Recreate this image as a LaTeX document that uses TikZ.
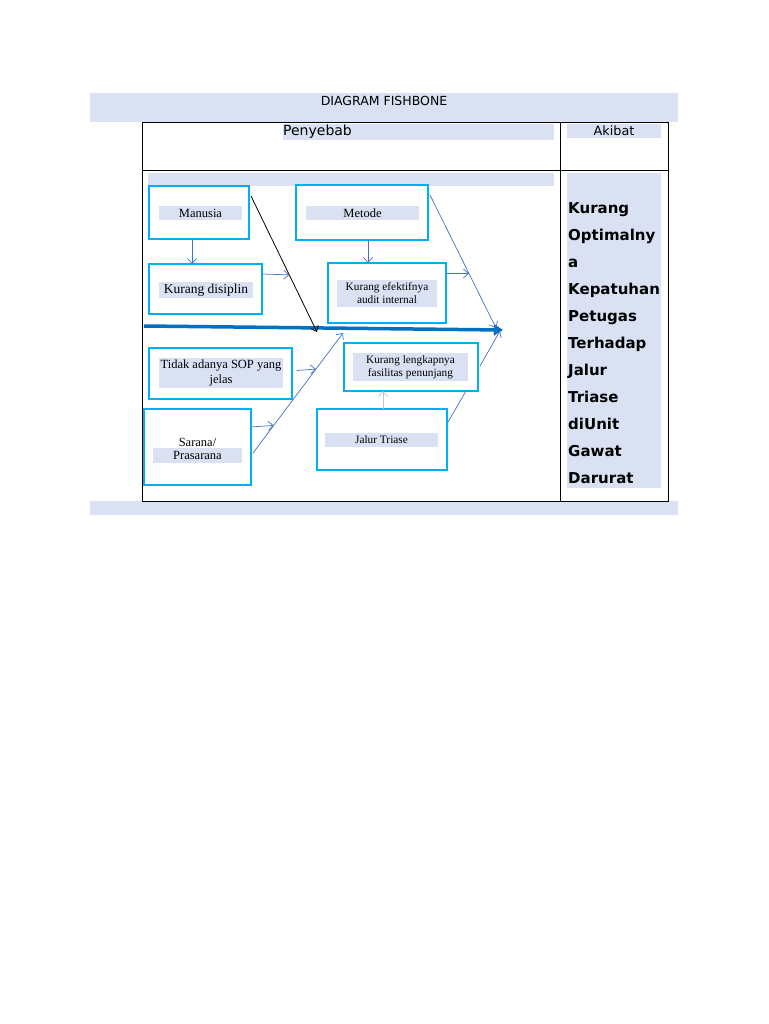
\documentclass[tikz,border=0pt]{standalone}
\usepackage{fontspec}
\setmainfont{Liberation Serif}
\newfontfamily\dejavu{DejaVu Sans}
\usetikzlibrary{arrows.meta,positioning,calc}
\definecolor{hl}{HTML}{D9E1F2}
\definecolor{cy}{HTML}{00B0F0}
\definecolor{spinecol}{HTML}{0070C0}
\definecolor{bone}{HTML}{4472C4}
\newcommand{\fs}[1]{\fontsize{#1}{1.2\dimexpr#1pt\relax}\selectfont}
\tikzset{
  cbox/.style={draw=cy,line width=2.9pt,inner sep=0pt,outer sep=0pt},
  lbl/.style={fill=hl,inner sep=0pt,align=center,font=\fs{12.5}},
  sml/.style={font=\fontsize{11.3}{13}\selectfont},
  bonearrow/.style={draw=bone,line width=0.7pt,-{Straight Barb[length=5pt,width=9pt]}},
}

\begin{document}
\begin{tikzpicture}[x=1pt,y=-1pt]
  \useasboundingbox (0,0) rectangle (768,1024);
  \fill[hl] (90,93) rectangle (678,122);
  \fill[hl] (90,501) rectangle (678,515);
  \fill[hl] (283,124) rectangle (554,140);
  \fill[hl] (567,124) rectangle (661,138);
  \fill[hl] (148,173) rectangle (554,186);
  \fill[hl] (567,173) rectangle (661,488);
  \draw[line width=1pt] (142,123) rectangle (668,501) (560,123) -- (560,501) (142,171) -- (668,171);
  \node[font=\dejavu\fs{12.5}] (title) at (384,100.5) {DIAGRAM FISHBONE};
  \node[font=\dejavu\fs{14}] (sebab) at (317.5,132) {Penyebab};
  \node[font=\dejavu\fs{12.8}] (akibat) at (614,131) {Akibat};
  \foreach \w [count=\i] in {Kurang,Optimalny,a,Kepatuhan,Petugas,Terhadap,Jalur,Triase,diUnit,Gawat,Darurat}
    \node[anchor=base west,inner sep=0pt,font=\dejavu\bfseries\fs{15}] (ak\i) at (568,186.5+27*\i) {\w};

  \node[cbox,minimum width=100pt,minimum height=53pt] (man) at (199,212.5) {};
  \node[lbl,minimum width=83pt,minimum height=14pt] (manl) at (200.5,213) {Manusia};
  \node[cbox,minimum width=132pt,minimum height=55pt] (met) at (362,212.5) {};
  \node[lbl,minimum width=113pt,minimum height=14pt] (metl) at (362.5,213) {Metode};
  \node[cbox,minimum width=113pt,minimum height=50pt] (kd) at (205.5,289) {};
  \node[lbl,font=\fs{13.5},minimum width=94pt,minimum height=16pt] (kdl) at (206,290) {Kurang disiplin};
  \node[cbox,minimum width=118pt,minimum height=60pt] (kea) at (387,293) {};
  \node[lbl,sml,minimum width=100pt,minimum height=27pt] (keal) at (387,293.5) {Kurang efektifnya\\audit internal};
  \node[cbox,minimum width=143pt,minimum height=51pt] (sop) at (220.5,373.5) {};
  \node[lbl,minimum width=124pt,minimum height=30pt] (sopl) at (221,373) {Tidak adanya SOP yang\\jelas};
  \node[cbox,minimum width=107pt,minimum height=76pt] (sar) at (197.5,447) {};
  \node[lbl,minimum width=89pt,minimum height=15pt] (sarl) at (197.5,455.5) {Prasarana};
  \node[inner sep=0pt,font=\fs{12.5},above=1pt of sarl] (sart) {Sarana/};
  \node[cbox,minimum width=134pt,minimum height=48pt] (kl) at (411,367) {};
  \node[lbl,sml,minimum width=115pt,minimum height=28pt] (kll) at (410.5,367) {Kurang lengkapnya\\fasilitas penunjang};
  \node[cbox,minimum width=130pt,minimum height=61pt] (jt) at (382,439.5) {};
  \node[lbl,sml,minimum width=113pt,minimum height=14pt] (jtl) at (381.5,440) {Jalur Triase};

  \coordinate (tail) at (144,326);
  \coordinate (head) at (503,330);
  \coordinate (bs) at ($(man.north east)+(2,10)$);
  \coordinate (bhit) at (317,332);
  \coordinate (ms) at ($(met.north east)+(2,10)$);
  \coordinate (mhit) at (496,328);
  \coordinate (ss) at ($(sar.east)+(2,6)$);
  \coordinate (shit) at (343,333);
  \coordinate (khit) at (500,331);
  \coordinate (kdend) at ($(bs)!0.58!(bhit)$);
  \coordinate (keaend) at ($(ms)!0.59!(mhit)$);
  \coordinate (sopend) at ($(ss)!0.7!(shit)$);
  \coordinate (sarend) at ($(ss)!0.23!(shit)$);

  \draw[spinecol,line width=3.5pt,-{Triangle[length=9pt,width=11pt]}] (tail) -- (head);
  \draw[line width=0.8pt,-{Straight Barb[length=5pt,width=8pt]}] (bs) -- (bhit);
  \draw[bonearrow] ([xshift=-7pt]man.south) -- ([xshift=-7pt]man.south |- kd.north);
  \draw[bonearrow] ([xshift=6pt]met.south) -- ([xshift=6pt]met.south |- kea.north);
  \draw[bonearrow] ([yshift=15pt]kd.east) -- (kdend);
  \draw[bonearrow] ([yshift=19.5pt]kea.east) -- (keaend);
  \draw[bonearrow] (ms) -- (mhit);
  \draw[bonearrow] ([shift={(5pt,3pt)}]sop.east) -- (sopend);
  \draw[bonearrow] ([yshift=20pt]sar.east) -- (sarend);
  \draw[bonearrow] (ss) -- (shit);
  \draw[bonearrow] ($(kl.east)+(2,-1)$) -- (khit);
  \draw[draw=bone,line width=0.7pt] ($(jt.north east)+(1,13)$) -- ($(kl.south east)+(-12,0)$);
  \draw[bonearrow,draw=bone!40] ([xshift=1pt]jt.north) -- ([xshift=1pt]jt.north |- kl.south);
\end{tikzpicture}
\end{document}
